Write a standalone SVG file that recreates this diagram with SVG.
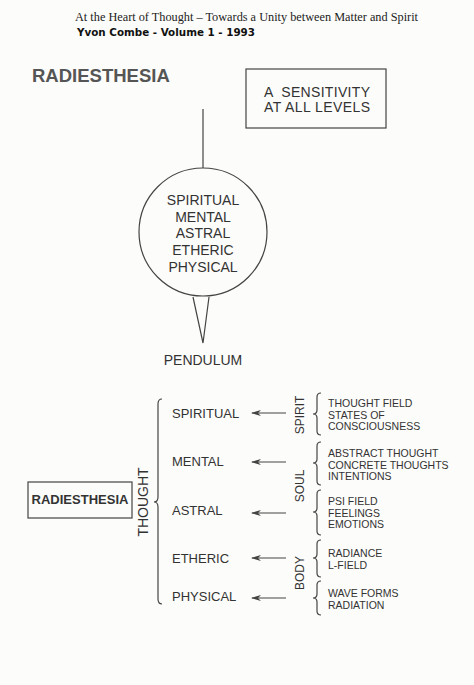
<svg xmlns="http://www.w3.org/2000/svg" width="474" height="685" viewBox="0 0 474 685">
<defs>
<style>
.s{font-family:"Liberation Sans",Arial,sans-serif;fill:#333}
.ln{fill:none;stroke:#444;stroke-width:1.2}
.c{text-anchor:middle}
.f14{font-size:14px}
.f13{font-size:13px}
.f10{font-size:10.5px}
.f12{font-size:12px}
</style>
<marker id="ah" markerWidth="10" markerHeight="8" refX="9" refY="4" orient="auto" markerUnits="userSpaceOnUse">
<path d="M0,1 L10,4 L0,7 L3,4 Z" fill="#444"/>
</marker>
</defs>
<rect x="0" y="0" width="474" height="685" fill="#fcfcfa"/>
<g id="header">
<text x="75" y="21" font-family="Liberation Serif,serif" font-size="13.5" fill="#222" textLength="343" lengthAdjust="spacingAndGlyphs">At the Heart of Thought – Towards a Unity between Matter and Spirit</text>
<text x="77" y="36" font-family="DejaVu Sans,sans-serif" font-weight="bold" font-size="11" fill="#111" textLength="178" lengthAdjust="spacingAndGlyphs">Yvon Combe - Volume 1 - 1993</text>
</g>
<g id="title">
<text class="s" x="32" y="82" font-size="18.5" font-weight="bold" style="fill:#555">RADIESTHESIA</text>
</g>
<g id="sensitivity">
<rect class="ln" x="246" y="69" width="140" height="59"/>
<text class="s" x="264" y="96.5" font-size="14" textLength="106" xml:space="preserve">A  SENSITIVITY</text>
<text class="s" x="264" y="112" font-size="14" textLength="106">AT ALL LEVELS</text>
</g>
<g id="pendulum">
<line class="ln" x1="203" y1="109" x2="203" y2="168"/>
<circle class="ln" cx="203" cy="232" r="64"/>
<path class="ln" d="M193,297 L203,343 L209,297"/>
<text class="s c f14" x="203" y="205">SPIRITUAL</text>
<text class="s c f14" x="203" y="222">MENTAL</text>
<text class="s c f14" x="203" y="238">ASTRAL</text>
<text class="s c f14" x="203" y="255">ETHERIC</text>
<text class="s c f14" x="203" y="272">PHYSICAL</text>
<text class="s c f14" x="203" y="365">PENDULUM</text>
</g>
<g id="radiesthesia-box">
<rect class="ln" x="28" y="482" width="104" height="36"/>
<text class="s c" x="80" y="504" font-size="13" font-weight="bold">RADIESTHESIA</text>
</g>
<g id="thought">
<path class="ln" d="M162,399 Q158,399 158,404 L158,497 Q158,502 154,502 Q158,502 158,507 L158,599 Q158,604 162,604"/>
<text class="s c f14" transform="translate(148,502) rotate(-90)">THOUGHT</text>
</g>
<g id="levels">
<text class="s f13" x="172" y="418">SPIRITUAL</text>
<text class="s f13" x="172" y="466">MENTAL</text>
<text class="s f13" x="172" y="515">ASTRAL</text>
<text class="s f13" x="172" y="563">ETHERIC</text>
<text class="s f13" x="172" y="601">PHYSICAL</text>
</g>
<g id="connectors">
<line class="ln" x1="286" y1="413" x2="252" y2="413" marker-end="url(#ah)"/>
<line class="ln" x1="286" y1="462" x2="252" y2="462" marker-end="url(#ah)"/>
<line class="ln" x1="286" y1="513" x2="252" y2="513" marker-end="url(#ah)"/>
<line class="ln" x1="286" y1="558" x2="252" y2="558" marker-end="url(#ah)"/>
<line class="ln" x1="286" y1="598" x2="252" y2="598" marker-end="url(#ah)"/>
</g>
<g id="groups">
<text class="s c f12" transform="translate(304,415) rotate(-90)">SPIRIT</text>
<text class="s c f12" transform="translate(304,486) rotate(-90)">SOUL</text>
<text class="s c f12" transform="translate(304,573) rotate(-90)">BODY</text>
</g>
<g id="braces">
<path class="ln" d="M321,393 Q317,393 317,397 L317,410 Q317,414 313,414 Q317,414 317,418 L317,431 Q317,435 321,435"/>
<path class="ln" d="M321,442 Q317,442 317,446 L317,459 Q317,463 313,463 Q317,463 317,467 L317,481 Q317,485 321,485"/>
<path class="ln" d="M321,490 Q317,490 317,494 L317,508 Q317,512 313,512 Q317,512 317,516 L317,531 Q317,535 321,535"/>
<path class="ln" d="M321,540 Q317,540 317,544 L317,554 Q317,558 313,558 Q317,558 317,562 L317,573 Q317,577 321,577"/>
<path class="ln" d="M321,581 Q317,581 317,585 L317,594 Q317,598 313,598 Q317,598 317,602 L317,611 Q317,615 321,615"/>
</g>
<g id="fields">
<text class="s f10" x="328" y="407">THOUGHT FIELD</text>
<text class="s f10" x="328" y="418.5">STATES OF</text>
<text class="s f10" x="328" y="430">CONSCIOUSNESS</text>
<text class="s f10" x="328" y="457">ABSTRACT THOUGHT</text>
<text class="s f10" x="328" y="468.5">CONCRETE THOUGHTS</text>
<text class="s f10" x="328" y="480">INTENTIONS</text>
<text class="s f10" x="328" y="505">PSI FIELD</text>
<text class="s f10" x="328" y="516.5">FEELINGS</text>
<text class="s f10" x="328" y="528">EMOTIONS</text>
<text class="s f10" x="328" y="557">RADIANCE</text>
<text class="s f10" x="328" y="568.5">L-FIELD</text>
<text class="s f10" x="328" y="597">WAVE FORMS</text>
<text class="s f10" x="328" y="608.5">RADIATION</text>
</g>
</svg>
